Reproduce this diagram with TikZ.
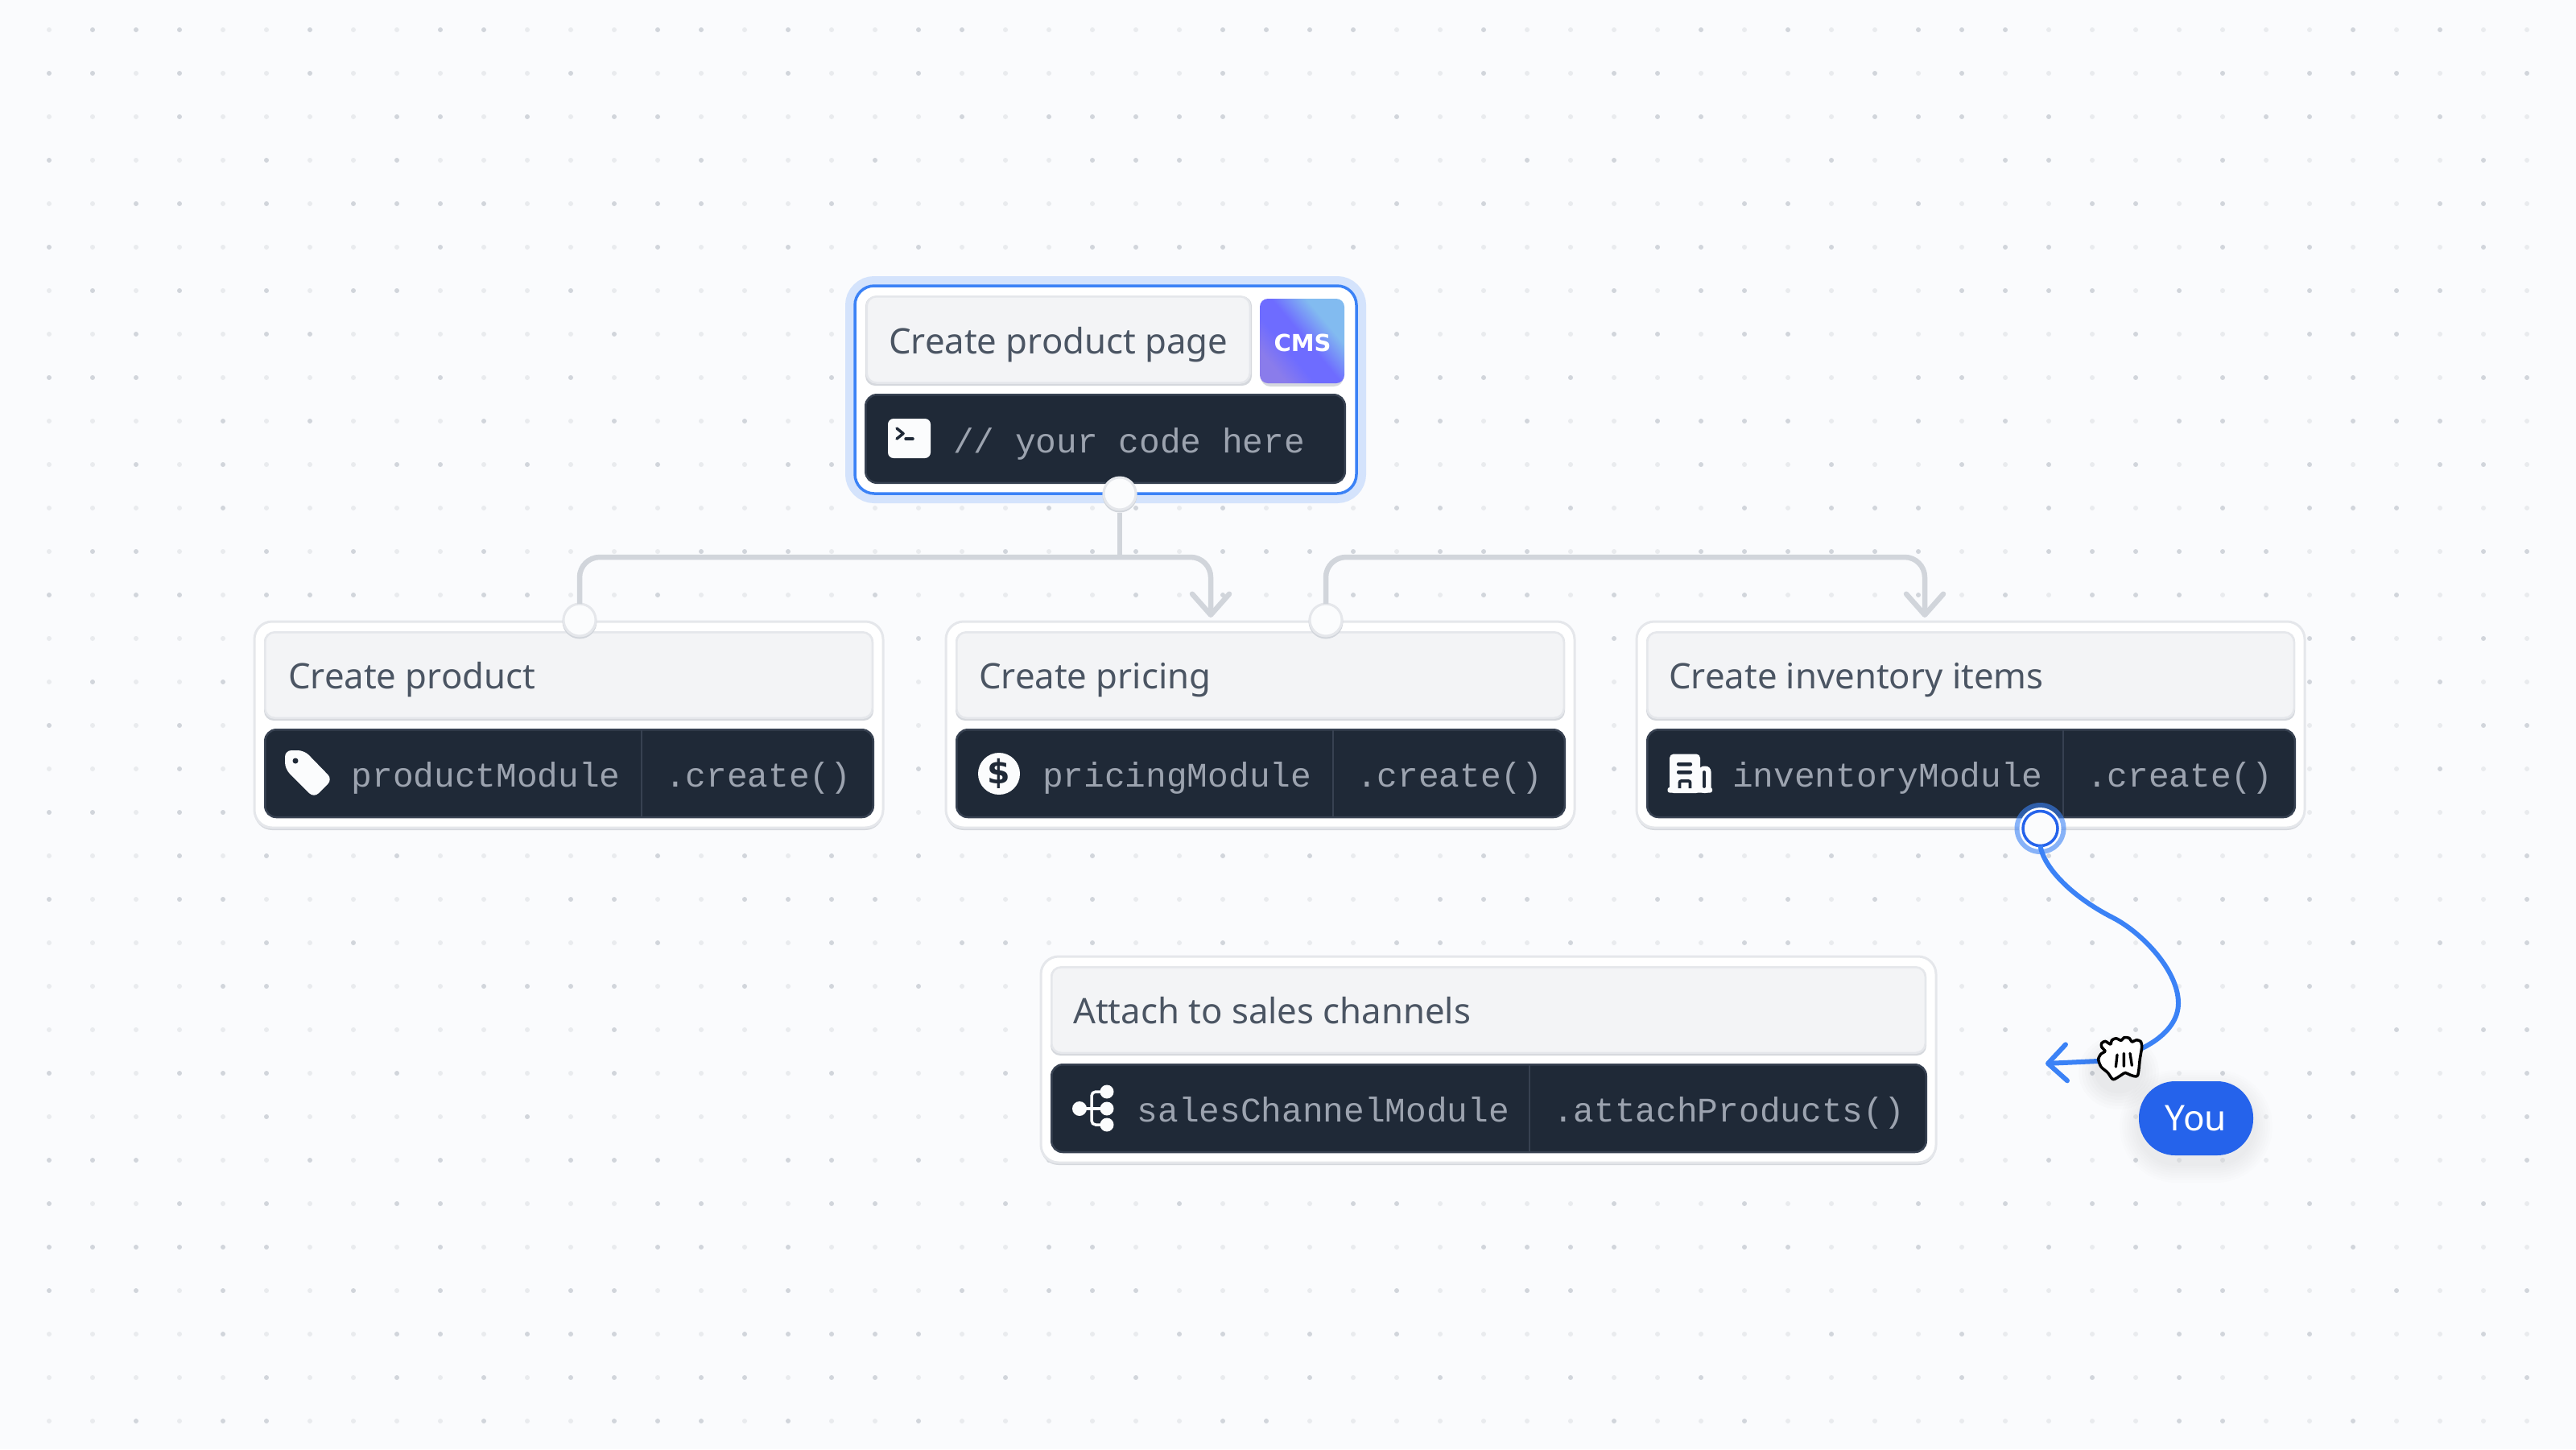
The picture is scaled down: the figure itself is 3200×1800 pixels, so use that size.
\documentclass[tikz,border=0pt]{standalone}
\usepackage{fontspec}
\setmainfont{Noto Sans}
\newfontfamily\monofam{Liberation Mono}
\newfontfamily\heavyfam{DejaVu Sans}
\usetikzlibrary{arrows.meta}
\definecolor{bgc}{HTML}{FAFBFD}
\definecolor{dotl}{HTML}{E9EBEE}
\definecolor{dotd}{HTML}{D1D5DB}
\definecolor{titletxt}{HTML}{4B5563}
\definecolor{monotxt}{HTML}{9CA3AF}
\definecolor{darkbar}{HTML}{1F2937}
\definecolor{darkedge}{HTML}{374151}
\definecolor{cardedge}{HTML}{E5E7EB}
\definecolor{shadowc}{HTML}{D5D8DD}
\definecolor{titlefill}{HTML}{F3F4F6}
\definecolor{blueline}{HTML}{3B82F6}
\definecolor{bluedeep}{HTML}{2563EB}
\definecolor{halo}{HTML}{D4E3FC}
\definecolor{connc}{HTML}{D1D5DB}
\definecolor{portf}{HTML}{FBFCFD}
\definecolor{cmsA}{HTML}{8A7CEB}
\definecolor{cmsB}{HTML}{6E6CFF}
\definecolor{cmsC}{HTML}{82BBF0}
\pgfdeclarehorizontalshading{cmsgrad}{100bp}{color(0bp)=(cmsA); color(27bp)=(cmsA); color(40bp)=(cmsB); color(52bp)=(cmsB); color(68bp)=(cmsC); color(100bp)=(cmsC)}
\tikzset{
  rbox/.style={rectangle,inner sep=0pt,outer sep=0pt},
  cardbox/.style={rbox,fill=white,draw=cardedge,line width=3pt,rounded corners=22pt},
  cardshadow/.style={rbox,fill=shadowc,rounded corners=22pt},
  selhalo/.style={rbox,draw=halo,line width=24pt,rounded corners=24pt},
  selbox/.style={rbox,fill=white,draw=blueline,line width=3.5pt,rounded corners=24pt},
  titlebox/.style={rbox,fill=titlefill,draw=cardedge,line width=2.5pt,rounded corners=12pt},
  titleshadow/.style={rbox,fill=shadowc,rounded corners=12pt},
  barbox/.style={rbox,fill=darkbar,draw=darkedge,line width=2.5pt,rounded corners=14pt},
  cmsbox/.style={rbox,rounded corners=10pt,shading=cmsgrad,shading angle=40},
  titletext/.style={anchor=base west,inner sep=0pt,text=titletxt,font=\fontsize{43.7}{50}\selectfont},
  monotext/.style={anchor=base west,inner sep=0pt,text=monotxt,font=\monofam\fontsize{42.8}{50}\selectfont},
  port/.style={circle,fill=portf,draw=cardedge,line width=3pt,minimum size=40pt,inner sep=0pt,outer sep=0pt},
  portshadow/.style={circle,fill=dotd,minimum size=43pt,inner sep=0pt,outer sep=0pt},
  conn/.style={draw=connc,line width=6.5pt,rounded corners=25pt},
  connarrow/.style={-{Straight Barb[length=26pt,width=46pt,line width=6.5pt,round]}},
  bluecurve/.style={draw=blueline,line width=6pt,-{Straight Barb[length=23pt,width=45pt,line width=6pt,round]}},
  icon/.style={fill=portf},
  iconcut/.style={fill=darkbar},
  divider/.style={draw=darkedge,line width=2.5pt},
}
% name, style, x1, y1, x2, y2
\newcommand{\rb}[6]{\node[#2,minimum width={(#5)-(#3)},minimum height={(#6)-(#4)}] (#1) at ({((#3)+(#5))/2},{((#4)+(#6))/2}) {};}
\newcommand{\card}[5]{%
  \rb{#1shadow}{cardshadow}{#2}{#3+3}{#4}{#5+3}
  \rb{#1}{cardbox}{#2}{#3}{#4}{#5}
  \rb{#1tshadow}{titleshadow}{#2+12}{#3+13}{#4-12}{#3+123}
  \rb{#1title}{titlebox}{#2+13.25}{#3+13.25}{#4-13.25}{#3+119.75}
  \rb{#1bar}{barbox}{#2+13.25}{#3+134.25}{#4-12.25}{#3+243}
}
\begin{document}
\begin{tikzpicture}[x=1pt,y=-1pt]
\useasboundingbox (0,0) rectangle (3200,1800);
\fill[bgc] (0,0) rectangle (3200,1800);
% dotted background
\pgfmathsetseed{4711}
\foreach \i in {0,...,57}{
  \foreach \j in {0,...,32}{
    \pgfmathparse{rnd<0.36?1:0}
    \ifnum\pgfmathresult=1\relax
      \fill[dotd] ({61+54*\i},{37+54*\j}) circle[radius=3pt];
    \else
      \fill[dotl] ({61+54*\i},{37+54*\j}) circle[radius=3pt];
    \fi
  }
}
% selected card
\rb{mainhalo}{selhalo}{1062}{355}{1685}{613}
\rb{main}{selbox}{1062}{355}{1685}{613}
\rb{maintshadow}{titleshadow}{1075}{368}{1555}{479}
\rb{maintitle}{titlebox}{1076.75}{368.25}{1552.75}{475.5}
\rb{cmsshadow}{titleshadow}{1566}{374}{1669}{480}
\rb{cms}{cmsbox}{1565}{371}{1670}{476}
\rb{mainbar}{barbox}{1075.25}{490.25}{1670.75}{599.75}
% other cards
\card{prod}{316}{772}{1097}{1028}
\card{price}{1175}{772}{1956}{1028}
\card{inv}{2033}{772}{2863}{1028}
\card{sales}{1293}{1188}{2405}{1444}
% dividers
\draw[divider] (797,906) -- (797,1016);
\draw[divider] (1656,906) -- (1656,1016);
\draw[divider] (2563,906) -- (2563,1016);
\draw[divider] (1900,1322) -- (1900,1432);
% ports and connector ends
\coordinate (jn) at (1391,692);
\coordinate (tipa) at (1504,767);
\coordinate (tipb) at (2391,767);
\node[portshadow] (pas) at (1391,615) {};
\node[portshadow] (pbs) at (720,772) {};
\node[portshadow] (pcs) at (1647,772) {};
\node[port] (pa) at (1391,613) {};
\node[port] (pb) at (720,770) {};
\node[port] (pc) at (1647,770) {};
% connectors
\draw[conn] (pas.south) -- (jn);
\draw[conn,connarrow] (pb.north) -- (pb.north |- jn) -- (tipa |- jn) -- (tipa);
\draw[conn,connarrow] (pc.north) -- (pc.north |- jn) -- (tipb |- jn) -- (tipb);
% texts
\node[titletext] (t0) at (1104,439) {Create product page};
\node[titletext] (t1) at (358,855) {Create product};
\node[titletext] (t2) at (1216,855) {Create pricing};
\node[titletext] (t3) at (2073,855) {Create inventory items};
\node[titletext] (t4) at (1333,1271) {Attach to sales channels};
\node[anchor=base,inner sep=0pt,text=white,font=\heavyfam\bfseries\fontsize{29}{34}\selectfont] (tcms) at (1618,436) {CMS};
\node[monotext] (m0) at (1184,562) {// your code here};
\node[monotext] (m1) at (436.5,977) {productModule};
\node[monotext] (m2) at (1295,977) {pricingModule};
\node[monotext] (m3) at (2152,977) {inventoryModule};
\node[monotext] (m4) at (1412.5,1393) {salesChannelModule};
\node[monotext] (c1) at (826,977) {.create()};
\node[monotext] (c2) at (1685,977) {.create()};
\node[monotext] (c3) at (2592,977) {.create()};
\node[monotext] (c4) at (1929,1393) {.attachProducts()};
% terminal icon
\fill[icon,rounded corners=7pt] (1103,520) rectangle (1156,569);
\draw[darkbar,line width=3.5pt,line cap=round,line join=round] (1114,532) -- (1122,538.5) -- (1114,545);
\draw[darkbar,line width=3.5pt,line cap=round] (1125,545) -- (1134,545);
% tag icon
\fill[icon,rounded corners=8pt] (354,932) -- (378,932) -- (413,968) -- (390,991) -- (354,955) -- cycle;
\fill[iconcut] (367,945) circle[radius=3.5pt];
% dollar icon
\fill[icon] (1241,961) circle[radius=26pt];
\node[inner sep=0pt,text=darkbar,font=\heavyfam\bfseries\fontsize{41}{44}\selectfont] (dollar) at (1241,961) {\$};
% building icon
\fill[icon,rounded corners=5pt] (2074,936.5) -- (2112,936.5) -- (2112,985) -- (2074,985) -- cycle;
\fill[icon,rounded corners=7pt] (2110,951.5) -- (2125.5,951.5) -- (2125.5,985) -- (2110,985) -- cycle;
\fill[icon,rounded corners=2.5pt] (2071.5,978) rectangle (2127,984.5);
\fill[iconcut,rounded corners=2pt] (2083,947) rectangle (2102,951.5);
\fill[iconcut,rounded corners=2pt] (2083,957) rectangle (2102,961.5);
\draw[darkbar,line width=3.7pt,rounded corners=2pt] (2086.5,979) -- (2086.5,970) -- (2099.5,970) -- (2099.5,979);
\draw[darkbar,line width=3.7pt,line cap=round] (2117,959) -- (2117,977);
% channel icon
\fill[icon] (1341,1377) circle[radius=9pt];
\fill[icon] (1375,1356) circle[radius=8.5pt];
\fill[icon] (1375,1377) circle[radius=8.5pt];
\fill[icon] (1375,1397) circle[radius=8.5pt];
\draw[portf,line width=3.5pt] (1341,1377) -- (1375,1377);
\draw[portf,line width=3.5pt,rounded corners=5pt] (1375,1356) -- (1356,1356) -- (1356,1397) -- (1375,1397);
% active port
\fill[blueline,opacity=.6] (2534.5,1029) circle[radius=32pt];
\fill[white] (2534.5,1029) circle[radius=26pt];
\node[circle,fill=portf,draw=bluedeep,line width=3.5pt,minimum size=43pt,inner sep=0pt,outer sep=0pt] (pd) at (2534.5,1029) {};
\coordinate (curvetip) at (2541,1321);
\draw[bluecurve] (pd.south) .. controls (2538,1075) and (2570,1112) .. (2625,1140)
  .. controls (2660,1158) and (2706,1205) .. (2706,1246)
  .. controls (2706,1285) and (2655,1312) .. (2606,1318) -- (curvetip);
% hand
\foreach \k in {1,...,6}{
  \fill[black,opacity=.012] (2632,1332) ellipse[x radius={26+\k*4},y radius={22+\k*4}];
}
\begin{scope}[shift={(2590,1275)},x=.3333pt,y=-.3333pt]
\draw[black,fill=white,line width=3.5pt,line join=round] plot[smooth cycle,tension=.45] coordinates {
  (50,122) (60,102) (75,92) (62,76) (62,62) (76,55) (95,66) (100,51) (116,44) (135,52) (146,41) (165,43) (175,57) (192,50) (208,56) (212,76) (205,120) (196,183) (168,180) (150,172) (135,181) (105,197) (85,172) (60,150)};
\draw[black,line width=3.3pt,line cap=round]
  (120,105) -- (115,150) (145,100) -- (145,148) (168,100) -- (175,145);
\end{scope}
% you badge
\foreach \k in {1,...,8}{
  \fill[black,opacity=.008,rounded corners={46+\k*3}] ({2657-\k*3},{1353-\k*3}) rectangle ({2799+\k*3},{1445+\k*3});
}
\node[rbox,fill=bluedeep,rounded corners=45pt,minimum width=142pt,minimum height=92pt] (you) at (2728,1389) {};
\node[anchor=base,inner sep=0pt,text=white,font=\fontsize{44}{50}\selectfont] (youtext) at (2727.5,1404.5) {You};
\end{tikzpicture}
\end{document}
